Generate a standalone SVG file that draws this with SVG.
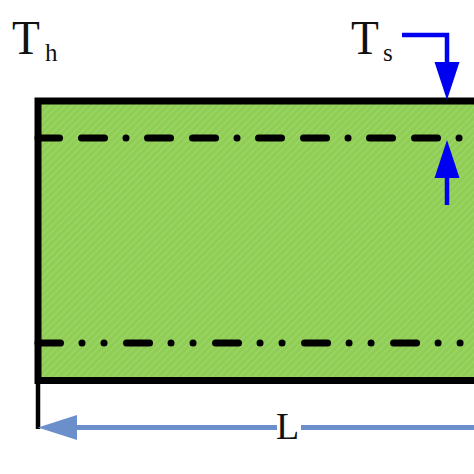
<svg xmlns="http://www.w3.org/2000/svg" width="474" height="474" viewBox="0 0 474 474">
<defs>
<pattern id="hatch" width="5" height="5" patternUnits="userSpaceOnUse" patternTransform="rotate(45)">
<rect width="5" height="5" fill="#8fcd55"/>
<rect width="1.6" height="5" fill="#9bd566"/>
</pattern>
<style>
.lbl{font-family:"Liberation Serif","Times New Roman",serif;fill:#111}
.blk{stroke:#000;fill:none}
.blue{stroke:#0000f0;stroke-width:4.5;fill:none}
</style>
</defs>
<rect width="474" height="474" fill="#fff"/>
<g id="bar">
<rect x="38" y="101" width="440" height="279" fill="url(#hatch)"/>
<path class="blk" d="M38,101 H478 M38,380.5 H478 M38,97.5 V384" stroke-width="7"/>
<path class="blk" d="M38,380 V429" stroke-width="4.5"/>
<path class="blk" d="M38,138 H478" stroke-width="7" stroke-linecap="round" stroke-dasharray="0.01 21.5 23 22 23 21.5" stroke-dashoffset="23"/>
<path class="blk" d="M38,343 H478" stroke-width="7" stroke-linecap="round" stroke-dasharray="23 21.5 0.01 22 0.01 22.5" stroke-dashoffset="0.5"/>
</g>
<g id="label-Th">
<text class="lbl" x="12" y="54.5" font-size="48" transform="translate(12 54.5) scale(0.95 1) translate(-12 -54.5)">T</text>
<text class="lbl" x="45" y="60.5" font-size="25">h</text>
</g>
<g id="label-Ts">
<text class="lbl" x="351" y="54.5" font-size="48" transform="translate(351 54.5) scale(0.95 1) translate(-351 -54.5)">T</text>
<text class="lbl" x="383" y="61" font-size="25">s</text>
</g>
<g id="connectors">
<path class="blue" d="M402,35 H447 V64"/>
<polygon points="434.5,62 459.5,62 447,100" fill="#0000f0"/>
<path class="blue" d="M447,205 V176"/>
<polygon points="434.5,178 459.5,178 447,140" fill="#0000f0"/>
<path d="M76,427.5 H277 M301,427.5 H474" stroke="#6b8fca" stroke-width="5" fill="none"/>
<polygon points="38,427.5 77,415 77,440" fill="#6b8fca"/>
</g>
<g id="label-L">
<text class="lbl" x="276" y="438.5" font-size="38">L</text>
</g>
</svg>
